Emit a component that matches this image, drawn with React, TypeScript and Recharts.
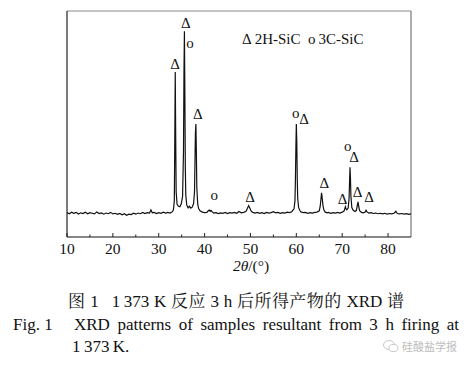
import React from 'react';
import { ComposedChart, Line, Scatter, XAxis, YAxis, ReferenceLine } from 'recharts';

// 2θ (degrees)
const twoTheta = [
  10, 10.5, 11, 11.5, 12, 12.5, 13, 13.5, 14, 14.5,
  15, 15.5, 16, 16.5, 17, 17.5, 18, 18.5, 19, 19.5,
  20, 20.5, 21, 21.5, 22, 22.5, 23, 23.5, 24, 24.5,
  25, 25.5, 26, 26.5, 27, 27.5, 28, 28.3, 28.6, 29,
  29.5, 30, 30.5, 31, 31.5, 32, 32.5, 33, 33.2, 33.4,
  33.5, 33.6, 33.7, 33.8, 34.0, 34.3, 34.6, 34.9, 35.2, 35.4,
  35.5, 35.6, 35.7, 35.8, 35.9, 36.1, 36.4, 36.7, 37.0, 37.3,
  37.6, 37.8, 37.9, 38.0, 38.1, 38.2, 38.3, 38.5, 38.7, 39,
  39.5, 40, 40.5, 40.8, 41.0, 41.2, 41.4, 41.6, 42, 42.5,
  43, 43.5, 44, 44.5, 45, 45.5, 46, 46.5, 47, 47.5,
  48, 48.5, 49, 49.3, 49.6, 49.9, 50.2, 50.5, 51, 51.5,
  52, 52.5, 53, 53.5, 54, 54.5, 55, 55.5, 56, 56.5,
  57, 57.5, 58, 58.5, 59, 59.5, 59.7, 59.8, 59.9, 60.0,
  60.1, 60.2, 60.3, 60.5, 60.8, 61, 61.5, 62, 62.5, 63,
  63.5, 64, 64.5, 65, 65.2, 65.4, 65.5, 65.6, 65.8, 66,
  66.3, 66.7, 67, 67.5, 68, 68.5, 69, 69.5, 70, 70.4,
  70.6, 70.7, 70.8, 71, 71.3, 71.5, 71.6, 71.7, 71.8, 71.9,
  72.1, 72.4, 72.8, 73.1, 73.3, 73.45, 73.6, 73.8, 74.2, 74.6,
  75.0, 75.2, 75.4, 75.8, 76.3, 76.8, 77.3, 77.8, 78.3, 78.8,
  79.3, 79.8, 80.3, 80.8, 81.3, 81.7, 82.0, 82.5, 83, 83.5,
  84, 84.5, 85,
];

// intensity (a.u.)
const intensity = [
  10.8, 10.3, 11.0, 10.5, 10.9, 10.2, 10.7, 10.4, 11.0, 10.3,
  10.8, 10.5, 10.2, 11.1, 10.4, 10.7, 10.1, 10.6, 10.3, 10.9,
  10.2, 10.5, 10.0, 10.4, 9.8, 10.3, 9.6, 10.1, 9.9, 10.5,
  10.1, 10.6, 10.3, 10.9, 10.4, 10.8, 10.6, 12.0, 10.7, 10.9,
  10.4, 10.8, 10.5, 11.0, 10.6, 10.9, 10.6, 11.2, 12.0, 16.0,
  42, 73, 44, 20, 14.5, 13.6, 13.4, 14.6, 18, 38,
  72, 91, 62, 30, 18.5, 14.2, 12.9, 13.6, 12.8, 13.2,
  14.8, 20, 33, 46, 50, 38, 22, 14.5, 12.6, 11.6,
  11.0, 10.8, 10.9, 11.6, 11.9, 11.4, 11.8, 11.2, 10.6, 10.8,
  10.4, 10.7, 10.5, 10.9, 10.4, 10.8, 10.6, 10.9, 10.5, 11.3,
  10.7, 10.9, 11.3, 12.5, 13.9, 12.6, 11.3, 10.9, 10.6, 10.9,
  10.5, 10.8, 10.4, 10.9, 10.6, 10.8, 11.2, 10.7, 10.9, 10.5,
  10.8, 10.6, 11.0, 10.8, 11.2, 12.5, 16, 25, 39, 50,
  42, 26, 17, 13, 11.6, 11.1, 10.8, 10.9, 10.5, 10.8,
  10.6, 10.9, 11.0, 11.6, 13.5, 17.5, 19.6, 18, 14, 12,
  11, 10.7, 10.9, 10.5, 10.8, 10.6, 10.9, 10.6, 11.0, 11.5,
  12.8, 13.4, 12.5, 12.0, 12.8, 17, 24, 30.8, 26, 18,
  13, 11.8, 11.3, 11.8, 14, 15.6, 13.5, 11.6, 10.9, 10.7,
  11.0, 11.8, 11.1, 10.6, 10.8, 10.4, 10.6, 10.3, 10.5, 10.2,
  10.5, 10.1, 10.4, 10.2, 10.5, 11.4, 10.4, 10.2, 10.4, 10.1,
  10.3, 10.0, 10.2,
];

// phase markers above peaks
const markerX = [33.55, 35.9, 36.8, 38.5, 42.1, 49.9, 59.9, 61.7, 66.1, 70.1, 71.2, 72.6, 73.35, 75.85];
const markerY = [76.6, 94.6, 85.0, 54.4, 17.8, 17.5, 54.3, 52.0, 23.9, 16.8, 39.5, 35.4, 20.0, 17.5];
const markerSymbol = ['Δ', 'Δ', 'o', 'Δ', 'o', 'Δ', 'o', 'Δ', 'Δ', 'Δ', 'o', 'Δ', 'Δ', 'Δ'];

const xTicks = [10, 15, 20, 25, 30, 35, 40, 45, 50, 55, 60, 65, 70, 75, 80];

const spectrum = twoTheta.map((t, i) => ({ t, v: intensity[i] }));
const markers = markerX.map((t, i) => ({ t, v: markerY[i], s: markerSymbol[i] }));

const SERIF = '"Liberation Serif", serif';
const CJK = '"Liberation Serif", "Noto Serif CJK SC", "Noto Sans CJK SC", serif';

const AxisTick = (props: any) => {
  const { x, y, payload } = props;
  const v = payload.value;
  const major = v % 10 === 0;
  return (
    <g>
      <line x1={x} x2={x} y1={y} y2={y - (major ? 4 : 2.5)} stroke="#222" strokeWidth={1} />
      {major && (
        <text x={x} y={y + 17} textAnchor="middle" fontFamily={SERIF} fontSize={15.5} fill="#111">
          {v}
        </text>
      )}
    </g>
  );
};

const MarkerShape = (props: any) => {
  const { cx, cy, payload } = props;
  const isTri = payload.s === 'Δ';
  return (
    <text
      x={cx}
      y={cy + (isTri ? 5 : 3.4)}
      textAnchor="middle"
      fontFamily={SERIF}
      fontSize={15}
      fill="#111"
    >
      {payload.s}
    </text>
  );
};

export default function App() {
  return (
    <div
      style={{
        position: 'absolute',
        left: 0,
        top: 0,
        width: 474,
        height: 366,
        background: '#fff',
        fontFamily: SERIF,
        color: '#111',
        overflow: 'hidden',
      }}
    >
      <ComposedChart
        width={474}
        height={275}
        data={spectrum}
        margin={{ top: 11, right: 63, left: 67, bottom: 8 }}
      >
        <XAxis
          dataKey="t"
          type="number"
          domain={[10, 85]}
          ticks={xTicks}
          interval={0}
          allowDataOverflow
          axisLine={{ stroke: '#111', strokeWidth: 1.2 }}
          tickLine={false}
          tickSize={0}
          tickMargin={0}
          height={30}
          tick={<AxisTick />}
        />
        <YAxis dataKey="v" type="number" domain={[0, 100]} hide />
        <ReferenceLine y={100} stroke="#8a8a8a" strokeWidth={1.2} />
        <ReferenceLine x={85} stroke="#777" strokeWidth={1.2} />
        <ReferenceLine x={10} stroke="#222" strokeWidth={1.2} />
        <Line
          dataKey="v"
          type="linear"
          stroke="#111"
          strokeWidth={1.2}
          dot={false}
          isAnimationActive={false}
        />
        <Scatter data={markers} dataKey="v" shape={<MarkerShape />} isAnimationActive={false} />
      </ComposedChart>

      {/* legend */}
      <div
        style={{
          position: 'absolute',
          left: 242,
          top: 29,
          fontSize: 15,
          lineHeight: '20px',
          whiteSpace: 'pre',
        }}
      >
        {'Δ\u20092H-SiC\u2002o\u20093C-SiC'}
      </div>

      {/* axis title */}
      <div
        style={{
          position: 'absolute',
          left: 201,
          width: 100,
          top: 258,
          textAlign: 'center',
          fontSize: 15.5,
          lineHeight: '15px',
        }}
      >
        <i>2θ</i>/(°)
      </div>

      {/* Chinese caption */}
      <div
        style={{
          position: 'absolute',
          left: 68,
          top: 290,
          width: 336,
          fontSize: 17,
          lineHeight: '24px',
          fontFamily: CJK,
          textAlign: 'justify',
          textAlignLast: 'justify',
        }}
      >
        {'图 1\u2002 1\u2009373 K 反应 3 h 后所得产物的 XRD 谱'}
      </div>

      {/* English caption */}
      <div style={{ position: 'absolute', left: 13, top: 313, fontSize: 17, lineHeight: '24px' }}>Fig. 1</div>
      <div
        style={{
          position: 'absolute',
          left: 74,
          top: 313,
          width: 385,
          fontSize: 17,
          lineHeight: '24px',
          textAlign: 'justify',
          textAlignLast: 'justify',
        }}
      >
        XRD patterns of samples resultant from 3 h firing at
      </div>
      <div style={{ position: 'absolute', left: 72, top: 335, fontSize: 17, lineHeight: '24px' }}>
        {'1\u2009373\u2009K.'}
      </div>

      {/* watermark */}
      <svg style={{ position: 'absolute', left: 382, top: 338 }} width={18} height={16}>
        <ellipse cx={7} cy={7} rx={5.5} ry={4.5} fill="none" stroke="#c8c8c8" strokeWidth={1} />
        <ellipse cx={11.5} cy={10} rx={4.5} ry={3.6} fill="#fff" stroke="#c8c8c8" strokeWidth={1} />
      </svg>
      <div
        style={{
          position: 'absolute',
          left: 402,
          top: 338,
          fontSize: 11,
          lineHeight: '16px',
          color: '#bdbdbd',
          fontFamily: '"Noto Sans CJK SC", sans-serif',
          whiteSpace: 'nowrap',
        }}
      >
        硅酸盐学报
      </div>
    </div>
  );
}
